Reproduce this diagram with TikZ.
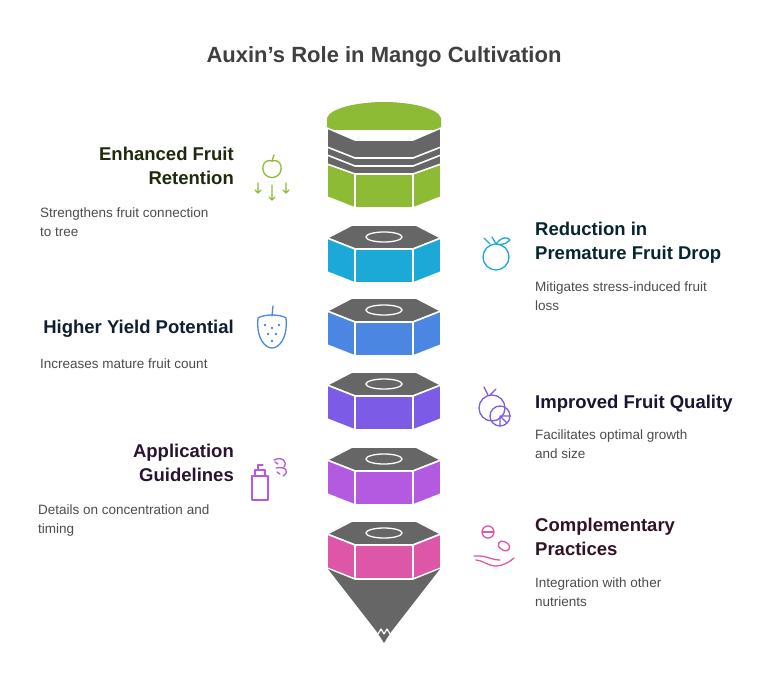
\documentclass[tikz,border=0pt]{standalone}
\usepackage{fontspec}
\setmainfont{Liberation Sans}
\begin{document}
\begin{tikzpicture}[x=1pt,y=-1pt,
 head/.style={font=\fontsize{18.5}{24}\selectfont\bfseries,inner sep=0},
 desc/.style={font=\fontsize{13.5}{19}\selectfont,text=black!70,inner sep=0},
 face/.style={draw=white,line width=1.6pt,line join=round},
 ic/.style={line width=1.3pt,line cap=round,line join=round}]
\definecolor{cg}{HTML}{8DBB35}\definecolor{cb}{HTML}{1DA9D8}\definecolor{cb2}{HTML}{4A86E2}
\definecolor{cv}{HTML}{7C5BE6}\definecolor{cp}{HTML}{B45AE0}\definecolor{cm}{HTML}{DD56A8}
\definecolor{gr}{HTML}{666666}
\useasboundingbox (0,0) rectangle (768,698);
\fill[white] (0,0) rectangle (768,698);
\node[font=\fontsize{22}{26}\selectfont\bfseries,text=black!75] (title) at (384,57) {Auxin's Role in Mango Cultivation};
% cap
\fill[cg] (327,130) -- (327,118) .. controls (330,108) and (358,102) .. (384,102) .. controls (410,102) and (438,108) .. (441,118) -- (441,130) -- cycle;
\filldraw[face,fill=gr] (327,128) -- (355,140) -- (413,140) -- (441,128) -- (441,165) -- (413,175) -- (355,175) -- (327,165) -- cycle;
\draw[white,line width=1.6pt] (327,147) -- (355,158) -- (413,158) -- (441,147);
\draw[white,line width=1.6pt] (327,155) -- (355,166) -- (413,166) -- (441,155);
\filldraw[face,fill=cg] (327,164) -- (355,174) -- (355,208) -- (327,197) -- cycle;
\filldraw[face,fill=cg] (441,164) -- (413,174) -- (413,208) -- (441,197) -- cycle;
\filldraw[face,fill=cg] (355,174) rectangle (413,208);
\coordinate (cap) at (384,150);
% nuts
\foreach \y/\c/\n in {225/cb/n1,298/cb2/n2,372/cv/n3,447/cp/n4,521/cm/n5}{
 \filldraw[face,fill=gr] (327,\y+13) -- (352,\y) -- (416,\y) -- (441,\y+13) -- (413,\y+24) -- (355,\y+24) -- cycle;
 \draw[white,line width=1.3pt] (384,\y+12) ellipse [x radius=18,y radius=5];
 \filldraw[face,fill=\c] (327,\y+13) -- (355,\y+24) -- (355,\y+58) -- (327,\y+47) -- cycle;
 \filldraw[face,fill=\c] (441,\y+13) -- (413,\y+24) -- (413,\y+58) -- (441,\y+47) -- cycle;
 \filldraw[face,fill=\c] (355,\y+24) rectangle (413,\y+58);
 \coordinate (\n) at (384,\y+30);
}
\fill[gr] (328,569) -- (355,580) -- (413,580) -- (440,569) -- (391,632) -- (384,643) -- (377,632) -- cycle;
\draw[white,line width=1.2pt,line join=round] (378,634) -- (381,629) -- (384,634) -- (387,629) -- (390,634);
% texts
\node[head,anchor=north east,align=right,text=black!78!cg] (t1) at (234,147) {Enhanced Fruit\\Retention};
\node[desc,anchor=north west,align=left] (d1) at (40,208) {Strengthens fruit connection\\to tree};
\node[head,anchor=north west,align=left,text=black!78!cb] (t2) at (535,222) {Reduction in\\Premature Fruit Drop};
\node[desc,anchor=north west,align=left] (d2) at (535,282) {Mitigates stress-induced fruit\\loss};
\node[head,anchor=north east,text=black!78!cb2] (t3) at (234,320) {Higher Yield Potential};
\node[desc,anchor=north west] (d3) at (40,359) {Increases mature fruit count};
\node[head,anchor=north west,text=black!78!cv] (t4) at (535,395) {Improved Fruit Quality};
\node[desc,anchor=north west,align=left] (d4) at (535,430) {Facilitates optimal growth\\and size};
\node[head,anchor=north east,align=right,text=black!78!cp] (t5) at (234,444) {Application\\Guidelines};
\node[desc,anchor=north west,align=left] (d5) at (38,505) {Details on concentration and\\timing};
\node[head,anchor=north west,align=left,text=black!78!cm] (t6) at (535,518) {Complementary\\Practices};
\node[desc,anchor=north west,align=left] (d6) at (535,578) {Integration with other\\nutrients};
% icons
\begin{scope}[ic,draw=cg]
 \draw (272,161) .. controls (262,158) and (260,172) .. (267,176) .. controls (270,178) and (274,178) .. (277,176) .. controls (284,172) and (282,158) .. (272,161);
 \draw (272,161) -- (274,155);
 \draw (258,183) -- (258,193) (255,190) -- (258,193) -- (261,190);
 \draw (272,185) -- (272,200) (269,197) -- (272,200) -- (275,197);
 \draw (286,183) -- (286,193) (283,190) -- (286,193) -- (289,190);
\end{scope}
\begin{scope}[ic,draw=cb]
 \draw (496,257) circle (13);
 \draw (496,244) -- (492,237) (496,244) .. controls (502,236) and (508,237) .. (510,240) .. controls (505,245) and (500,245) .. (496,244);
 \draw (484,238) -- (490,244);
\end{scope}
\begin{scope}[ic,draw=cb2]
 \draw (258,318) .. controls (256,340) and (266,348) .. (272,348) .. controls (278,348) and (288,340) .. (286,318) .. controls (280,314) and (264,314) .. (258,318);
 \draw (272,316) -- (273,306);
 \foreach \p in {(265,325),(272,328),(279,325),(268,334),(276,334),(272,341)} \fill[cb2] \p circle (1.4);
\end{scope}
\begin{scope}[ic,draw=cv]
 \draw (492,408) circle (13);
 \draw (500,416) circle (10);
 \draw (500,416) -- (510,416) (500,416) -- (500,426) (500,416) -- (507,423);
 \draw (488,395) -- (484,387) (490,395) -- (496,389);
\end{scope}
\begin{scope}[ic,draw=cp]
 \draw (252,476) rectangle (268,500);
 \draw (255,476) -- (255,470) -- (265,470) -- (265,476);
 \draw (258,470) -- (258,465) -- (263,465);
 \draw (274,460) .. controls (282,456) and (288,462) .. (284,467) (276,468) .. controls (286,466) and (290,472) .. (283,476) (275,462) -- (278,464) (277,472) -- (280,474);
\end{scope}
\begin{scope}[ic,draw=cm]
 \draw (488,532) circle (6);
 \draw (483,532) -- (493,532);
 \draw[rounded corners=4pt,rotate around={-30:(504,546)}] (498,542) rectangle (510,550);
 \draw (476,560) .. controls (482,560) and (488,566) .. (496,566) .. controls (502,566) and (510,562) .. (514,558);
 \draw (474,556) -- (480,556) .. controls (486,556) and (492,560) .. (500,560);
\end{scope}
\end{tikzpicture}
\end{document}
